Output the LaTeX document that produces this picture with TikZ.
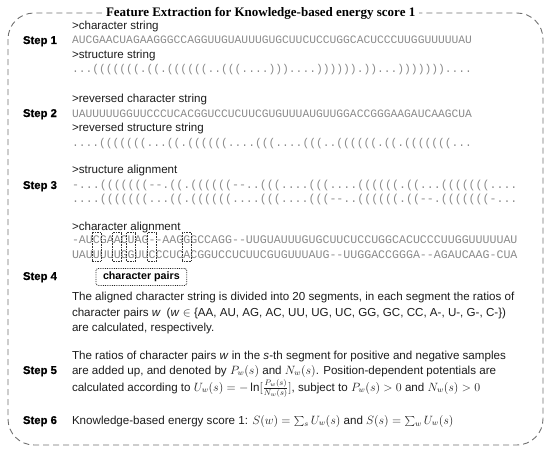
\documentclass[tikz,border=0pt]{standalone}
\usepackage{fontspec}
\setmainfont{Liberation Sans}
\newfontfamily\seqfont{Liberation Mono}
\newfontfamily\titlefont{Liberation Serif}
\newfontfamily\stepfont{Liberation Sans}[UprightFont={* Bold}, UprightFeatures={FakeBold=1}]
\definecolor{seqgray}{HTML}{8A8A8A}
\definecolor{framegray}{HTML}{707070}
\definecolor{inkblack}{HTML}{1C1C1C}
\tikzset{
  every node/.style={inner sep=0pt, outer sep=0pt},
  steplabel/.style={anchor=base west, font=\stepfont\fontsize{11.3}{13}\selectfont, text=black},
  headline/.style={anchor=base west, font=\fontsize{11.6}{14}\selectfont, text=inkblack},
  seqline/.style={anchor=base west, font=\seqfont\fontsize{11.3}{14}\selectfont, text=seqgray},
  alignline/.style={anchor=base west, font=\seqfont\fontsize{11.6}{14}\selectfont, text=seqgray},
  bodyline/.style={anchor=base west, font=\fontsize{11.6}{14}\selectfont, text=inkblack},
  colbox/.style={draw=black!80, densely dotted, line width=0.6pt, minimum width=9pt, minimum height=29pt, anchor=north},
  pairlabel/.style={draw=black!85, densely dotted, line width=0.8pt, rounded corners=1.5pt, inner xsep=7pt, inner ysep=3.5pt, font=\fontsize{10.7}{12}\selectfont\bfseries},
  frame/.style={draw=framegray, line width=0.9pt, dash pattern=on 6pt off 4pt, rounded corners=26pt},
  titletext/.style={fill=white, inner xsep=4pt, inner ysep=2pt, anchor=west, font=\titlefont\fontsize{13}{15}\selectfont\bfseries}
}
\begin{document}
\begin{tikzpicture}[x=1pt,y=-1pt]
\useasboundingbox (0,0) rectangle (550,455);
\draw[frame] (8,13) rectangle (543,445);
\node[titletext] (title) at (102,13) {Feature Extraction for Knowledge-based energy score 1};

% step labels
\node[steplabel] (st1) at (23,44) {Step 1};
\node[steplabel] (st2) at (23,117) {Step 2};
\node[steplabel] (st3) at (23,189) {Step 3};
\node[steplabel] (st4) at (23,280) {Step 4};
\node[steplabel] (st5) at (23,374) {Step 5};
\node[steplabel] (st6) at (23,424) {Step 6};

% step 1
\node[headline] (h1) at (72,29) {>character string};
\node[seqline] (s1) at (72,44) {AUCGAACUAGAAGGGCCAGGUUGUAUUUGUGCUUCUCCUGGCACUCCCUUGGUUUUUAU};
\node[headline] (h2) at (72,59) {>structure string};
\node[seqline] (t1) at (72,72) {...(((((((.((.((((((..(((....)))....)))))).))...)))))))....};

% step 2
\node[headline] (h3) at (72,102) {>reversed character string};
\node[seqline] (s2) at (72,117) {UAUUUUUGGUUCCCUCACGGUCCUCUUCGUGUUUAUGUUGGACCGGGAAGAUCAAGCUA};
\node[headline] (h4) at (72,131) {>reversed structure string};
\node[seqline] (t2) at (72,146) {....(((((((...((.((((((....(((....(((..((((((.((.(((((((...};

% step 3
\node[headline] (h5) at (72,173) {>structure alignment};
\node[alignline] (b1) at (72,188) {-...(((((((--.((.((((((--..(((....(((....((((((.((...(((((((....};
\node[alignline] (b2) at (72,202) {....(((((((...((.((((((....(((....(((--..((((((.((--.(((((((-...};

% character alignment
\node[headline] (h6) at (72,230) {>character alignment};
\node[alignline] (a1) at (72,243) {-AUCGAACUAG--AAGGGCCAGG--UUGUAUUUGUGCUUCUCCUGGCACUCCCUUGGUUUUUAU};
\node[alignline] (a2) at (72,258) {UAUUUUUGGUUCCCUCACGGUCCUCUUCGUGUUUAUG--UUGGACCGGGA--AGAUCAAG-CUA};

\node[colbox] (c1) at (96.36,232) {};
\node[colbox] (c2) at (117.24,232) {};
\node[colbox] (c3) at (131.16,232) {};
\node[colbox] (c4) at (152.04,232) {};
\node[colbox] (c5) at (186.84,232) {};

% step 4
\node[pairlabel, anchor=west] (pairs) at (96,277) {character pairs};
\node[bodyline] (p4a) at (72,300) {The aligned character string is divided into 20 segments, in each segment the ratios of};
\node[bodyline] (p4b) at (72,316) {character pairs \textit{w}\enspace(\textit{w} $\in$ \{AA, AU, AG, AC, UU, UG, UC, GG, GC, CC, A-, U-, G-, C-\})};
\node[bodyline] (p4c) at (72,331) {are calculated, respectively.};

% step 5
\node[bodyline] (p5a) at (72,359) {The ratios of character pairs \textit{w} in the \textit{s}-th segment for positive and negative samples};
\node[bodyline] (p5b) at (72,374) {are added up, and denoted by $P_w(s)$ and $N_w(s)$. Position-dependent potentials are};
\node[bodyline] (p5c) at (72,391) {calculated according to $U_w(s)=-\ln[\frac{P_w(s)}{N_w(s)}]$, subject to $P_w(s)>0$ and $N_w(s)>0$};

% step 6
\node[bodyline] (p6) at (72,424) {Knowledge-based energy score 1: $S(w)=\sum_s U_w(s)$ and $S(s)=\sum_w U_w(s)$};
\end{tikzpicture}
\end{document}
